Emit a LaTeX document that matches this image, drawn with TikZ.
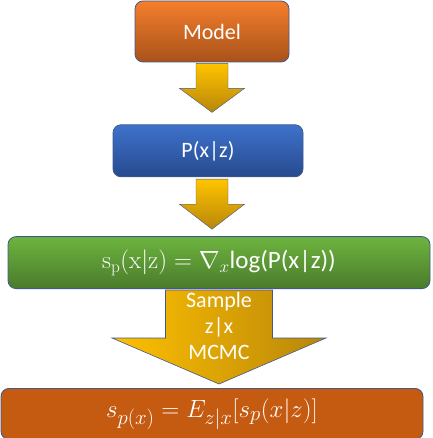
\documentclass[tikz,border=0pt]{standalone}
\usepackage{amsmath}
\usepackage[no-math]{fontspec}
\setmainfont{Carlito}
\usepackage{xcolor}
\usetikzlibrary{positioning,calc}
\definecolor{edgeblue}{HTML}{41598B}
\definecolor{orangetop}{HTML}{F47E2C}
\definecolor{orangebot}{HTML}{A9521A}
\definecolor{bluetop}{HTML}{3E72CC}
\definecolor{bluebot}{HTML}{274A8E}
\definecolor{greentop}{HTML}{6DB43F}
\definecolor{greenbot}{HTML}{4A7B2B}
\definecolor{rust}{HTML}{C55A11}
\definecolor{goldtop}{HTML}{FFC400}
\definecolor{goldbot}{HTML}{B8860A}
\tikzset{
  box/.style      = {rectangle, draw=edgeblue, line width=0.8pt, rounded corners=8pt,
                     text=white, font=\fontsize{22}{26}\selectfont, align=center},
  modelbox/.style = {box, top color=orangetop, bottom color=orangebot,
                     minimum width=154pt, minimum height=61pt},
  probbox/.style  = {box, top color=bluetop, bottom color=bluebot,
                     minimum width=190pt, minimum height=52pt},
  scorebox/.style = {box, top color=greentop, bottom color=greenbot,
                     minimum width=422pt, minimum height=52pt,
                     font=\fontsize{25}{29}\selectfont},
  expbox/.style   = {box, fill=rust, minimum width=422pt, minimum height=51pt,
                     font=\fontsize{27.5}{31}\selectfont},
  goldarr/.style  = {draw=edgeblue, line width=0.4pt, top color=goldtop, bottom color=goldbot},
  bigarr/.style   = {draw=edgeblue, line width=0.6pt, left color=goldtop!95!orange, right color=goldbot},
  arrtext/.style  = {text=white, font=\fontsize{22}{26}\selectfont, align=center},
}
\begin{document}
\begin{tikzpicture}[x=1pt, y=-1pt]
\useasboundingbox (0,0) rectangle (432,438);

%% -- Boxes --------------------------------------------------------------
\node[modelbox] (model) at (212,31.5) {Model};
\node[probbox, below=62pt of model, xshift=-4pt] (prob) {P(x|z)};
\node[scorebox, below=59pt of prob, xshift=11pt] (score)
  {$\mathrm{s_p(x|z)} = \nabla_{x}$log(P(x|z))};
\node[expbox, below=99pt of score, xshift=-7pt] (expect)
  {$s_{p(x)} = E_{z|x}[s_p(x|z)]$};

%% -- Block arrows -------------------------------------------------------
\draw[goldarr] ($(model.south)+(-16,1)$) -- ++(0,25) -- ++(-16.5,0)
  -- ($(model.south)+(0,50)$) -- ($(model.south)+(32.5,26)$) -- ++(-16.5,0)
  -- ++(0,-25) -- cycle;

\coordinate (a2) at (prob.south -| model.south);
\draw[goldarr] ($(a2)+(-16,2)$) -- ++(0,25) -- ++(-16.5,0)
  -- ($(a2)+(0,52)$) -- ($(a2)+(32.5,27)$) -- ++(-16.5,0)
  -- ++(0,-25) -- cycle;

\draw[bigarr] ($(score.south)+(-53.5,1)$) -- ++(0,48) -- ++(-53.5,0)
  -- ($(score.south)+(0,95)$) -- ($(score.south)+(107,49)$) -- ++(-53.5,0)
  -- ++(0,-48) -- cycle;
\node[arrtext] (mcmc) at ($(score.south)+(0,37)$) {Sample\\z|x\\MCMC};

\end{tikzpicture}
\end{document}
